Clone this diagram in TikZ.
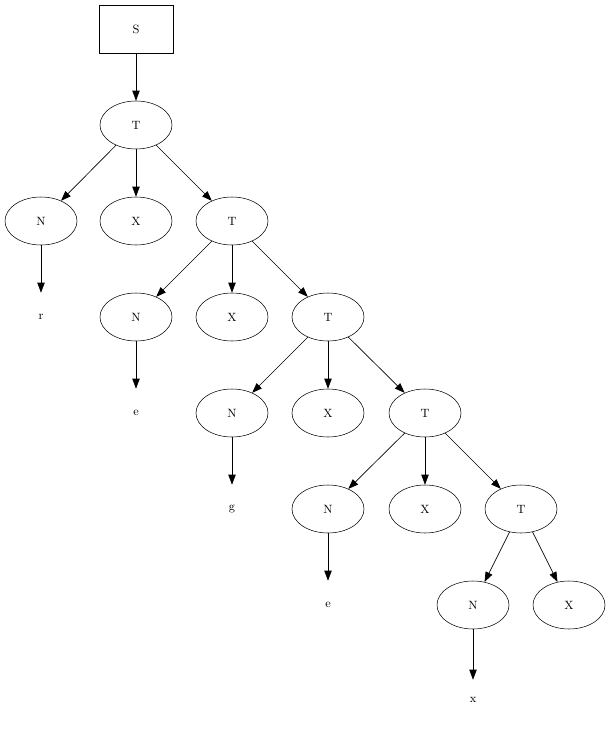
\documentclass[tikz,border=0pt]{standalone}
\usetikzlibrary{shapes.geometric,arrows.meta}
\begin{document}
\begin{tikzpicture}[x=0.75pt,y=-0.75pt,
  el/.style={draw,ellipse,minimum width=54pt,minimum height=36pt,inner sep=0pt,font=\small},
  bx/.style={draw,rectangle,minimum width=55.5pt,minimum height=36pt,inner sep=0pt,font=\small},
  lf/.style={inner sep=0pt,minimum width=54pt,minimum height=36pt,font=\small},
  ar/.style={-{Triangle[length=7.5pt,width=5.5pt]},line width=0.5pt}]
\useasboundingbox (0,0) rectangle (611,731);
\node[bx] (S) at (136,29) {S};
\node[el] (T1) at (136,125) {T};
\node[el] (N1) at (41,221) {N};
\node[el] (X1) at (136,221) {X};
\node[el] (T2) at (232,221) {T};
\node[lf] (r) at (41,317) {r};
\node[el] (N2) at (136,317) {N};
\node[el] (X2) at (232,317) {X};
\node[el] (T3) at (328,317) {T};
\node[lf] (e1) at (136,413) {e};
\node[el] (N3) at (232,413) {N};
\node[el] (X3) at (328,413) {X};
\node[el] (T4) at (425,413) {T};
\node[lf] (g) at (232,509) {g};
\node[el] (N4) at (328,509) {N};
\node[el] (X4) at (425,509) {X};
\node[el] (T5) at (521,509) {T};
\node[lf] (e2) at (328,605) {e};
\node[el] (N5) at (473,605) {N};
\node[el] (X5) at (569,605) {X};
\node[lf] (x) at (473,700) {x};
\draw[ar] (S) -- (T1);
\foreach \a/\b in {T1/N1,T1/X1,T1/T2,N1/r,T2/N2,T2/X2,T2/T3,N2/e1,T3/N3,T3/X3,T3/T4,N3/g,T4/N4,T4/X4,T4/T5,N4/e2,T5/N5,T5/X5}
  \draw[ar] (\a) -- (\b);
\draw[ar] (N5) -- ([yshift=-3pt]x.north);
\end{tikzpicture}
\end{document}
